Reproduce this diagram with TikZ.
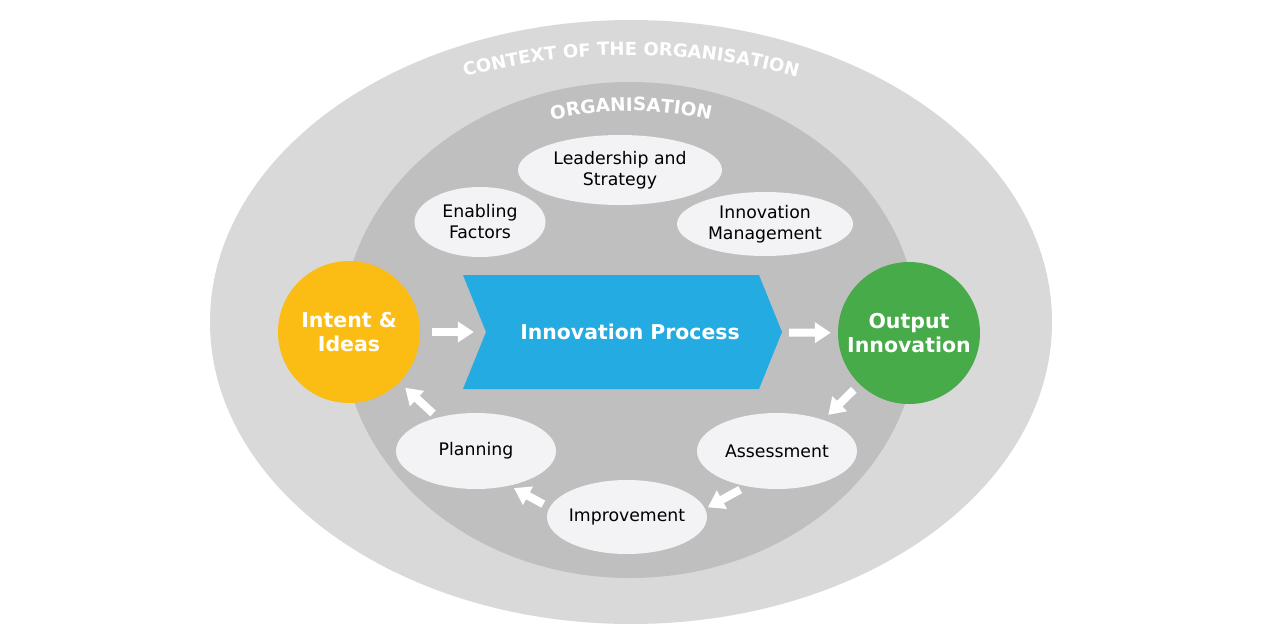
\documentclass[tikz,border=0pt]{standalone}
\usepackage{fontspec}
\setmainfont{DejaVu Sans}
\usetikzlibrary{shapes.geometric,arrows.meta,decorations.text}
\definecolor{outerg}{HTML}{D9D9D9}
\definecolor{innerg}{HTML}{BFBFBF}
\definecolor{bubblec}{HTML}{F3F3F5}
\definecolor{procblue}{HTML}{24ABE2}
\definecolor{intentc}{HTML}{FBBC13}
\definecolor{outputc}{HTML}{46AB48}
\begin{document}
\begin{tikzpicture}[x=1pt,y=-1pt]
\tikzset{
  bubble/.style={ellipse, fill=bubblec, inner xsep=-8pt, inner ysep=0pt, align=center, text=black,
    font=\fontsize{17.3}{21}\selectfont},
  circ/.style={circle, minimum size=142pt, inner sep=0pt, text=white, align=center,
    font=\bfseries\fontsize{20.5}{24.5}\selectfont},
  flow/.style={white, line width=8pt, -{Triangle[length=16pt 0 0, width=20pt 0 0]}}
}
\useasboundingbox (0,0) rectangle (1280,643);
\fill[white] (0,0) rectangle (1280,643);
\fill[outerg] (631,322) ellipse [x radius=421, y radius=302];
\fill[innerg] (630,330) ellipse [x radius=288, y radius=248];

% curved titles
\path[decorate, decoration={text along path, text align=center,
  text={|\bfseries\fontsize{18}{18}\selectfont\color{white}|CONTEXT OF THE ORGANISATION}}]
  (631,695) ++(-115:640) arc[start angle=-115, end angle=-65, radius=640];
\path[decorate, decoration={text along path, text align=center,
  text={|\bfseries\fontsize{18.5}{18.5}\selectfont\color{white}|ORGANISATION}}]
  (631,461) ++(-130:350) arc[start angle=-130, end angle=-50, radius=350];

% organisation bubbles
\node[bubble, minimum width=204pt, minimum height=70pt] (lead) at (620,170) {Leadership and\\Strategy};
\node[bubble, minimum width=131pt, minimum height=70pt] (enab) at (480,222) {Enabling\\Factors};
\node[bubble, minimum width=176pt, minimum height=64pt] (innm) at (765,224) {Innovation\\Management};

% process chevron
\fill[procblue] (463,275) -- (759,275) -- (782,332) -- (759,389) -- (463,389) -- (486,332) -- cycle;
\node[minimum width=288pt, minimum height=114pt, inner sep=0pt, text=white,
  font=\bfseries\fontsize{20.4}{24}\selectfont] (proc) at (630,332) {Innovation Process};

% circles
\node[circ, fill=intentc] (intent) at (349,332) {Intent \&\\Ideas};
\node[circ, fill=outputc] (output) at (909,333) {Output\\Innovation};

% cycle bubbles
\node[bubble, minimum width=160pt, minimum height=76pt] (plan) at (476,451) {Planning};
\node[bubble, minimum width=160pt, minimum height=76pt] (assess) at (777,451) {Assessment};
\node[bubble, minimum width=160pt, minimum height=74pt] (impr) at (627,517) {Improvement};

% arrows
\draw[flow, shorten <=12pt, shorten >=12pt] (intent) -- (proc);
\draw[flow, shorten <=15pt, shorten >=7pt] (proc) -- (output);
\draw[flow, shorten <=8pt, shorten >=7pt] (output.226) -- (assess.34);
\draw[flow, shorten <=7pt, shorten >=3pt] (assess.229) -- (impr.6);
\draw[flow, shorten <=7pt, shorten >=5pt] (impr.173) -- (plan.-46);
\draw[flow, shorten <=6pt, shorten >=8pt] (plan.139) -- (intent.-45);
\end{tikzpicture}
\end{document}
